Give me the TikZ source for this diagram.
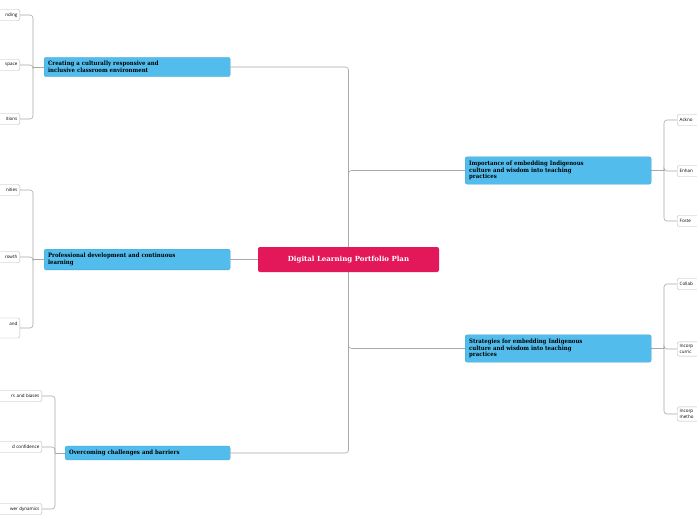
\documentclass[tikz,border=0pt]{standalone}
\usepackage{fontspec}
\setmainfont{DejaVu Serif}
\newfontfamily\leaffont{Open Sans}
\usetikzlibrary{backgrounds}
\definecolor{mainblue}{HTML}{52BDEC}
\definecolor{crim}{HTML}{E2185B}
\definecolor{conn}{HTML}{A8A8A8}
\tikzset{
  centre/.style={fill=crim,rounded corners=2pt,text=white,font=\bfseries\fontsize{7}{8}\selectfont,minimum width=181pt,minimum height=25pt,inner sep=3pt},
  topic/.style={fill=mainblue,draw=mainblue!85!black,line width=0.3pt,rounded corners=2pt,font=\bfseries\fontsize{6}{6.8}\selectfont\fontspec{DejaVu Serif Condensed},align=left,text width=178pt,inner sep=4pt,anchor=west},
  leafL/.style={draw=conn!80,fill=white,rounded corners=2pt,font=\leaffont\fontsize{4.5}{6}\selectfont,align=right,text width=60pt,inner sep=2.5pt,minimum height=11pt,anchor=east},
  leafR/.style={draw=conn!80,fill=white,rounded corners=2pt,font=\leaffont\fontsize{4.5}{6}\selectfont,align=left,text width=60pt,inner sep=2.5pt,minimum height=11pt,anchor=west},
  link/.style={draw=conn,line width=0.6pt,rounded corners=3pt}
}
\begin{document}
\begin{tikzpicture}[x=1pt,y=-1pt]
\useasboundingbox (0,0) rectangle (697,520);
\node[centre] (c) at (348.5,259.5) {Digital Learning Portfolio Plan};
\node[topic] (cre) at (44,67) {Creating a culturally responsive and\\inclusive classroom environment};
\node[topic] (pro) at (44,259.5) {Professional development and continuous\\learning};
\node[topic,text width=157pt] (ove) at (65,453) {Overcoming challenges and barriers};
\node[topic] (imp) at (465,170.5) {Importance of embedding Indigenous\\culture and wisdom into teaching\\practices};
\node[topic] (str) at (465,348.5) {Strategies for embedding Indigenous\\culture and wisdom into teaching\\practices};
% left leaves
\node[leafL] (l1) at (20,15) {nding};
\node[leafL] (l2) at (20,65) {space};
\node[leafL] (l3) at (20,119) {itions};
\node[leafL] (l4) at (20,190) {nities};
\node[leafL] (l5) at (20,257) {rowth};
\node[leafL,minimum height=20pt] (l6) at (20,328) {and\\\strut};
\node[leafL] (l7) at (42,396) {rs and biases};
\node[leafL] (l8) at (42,447) {d confidence};
\node[leafL] (l9) at (42,509) {wer dynamics};
% right leaves
\node[leafR] (r1) at (677,120) {Ackno};
\node[leafR] (r2) at (677,171) {Enhan};
\node[leafR] (r3) at (677,221) {Foste};
\node[leafR] (r4) at (677,284) {Collab};
\node[leafR] (r5) at (677,349) {Incorp\\curric};
\node[leafR] (r6) at (677,414) {Incorp\\metho};
\coordinate (bc) at (33,67);
\coordinate (bp) at (33,259.5);
\coordinate (bo) at (55,453);
\coordinate (bi) at (664,170.5);
\coordinate (bs) at (664,348.5);
\begin{scope}[on background layer]
\draw[link] (c.center) |- (cre.east);
\draw[link] (c.center) |- (pro.east);
\draw[link] (c.center) |- (ove.east);
\draw[link] (c.center) |- (imp.west);
\draw[link] (c.center) |- (str.west);
\draw[link] (cre.west) -- (bc);
\draw[link] (pro.west) -- (bp);
\draw[link] (ove.west) -- (bo);
\draw[link] (imp.east) -- (bi);
\draw[link] (str.east) -- (bs);
\foreach \l in {l1,l2,l3} \draw[link] (bc) |- (\l.east);
\foreach \l in {l4,l5,l6} \draw[link] (bp) |- (\l.east);
\foreach \l in {l7,l8,l9} \draw[link] (bo) |- (\l.east);
\foreach \l in {r1,r2,r3} \draw[link] (bi) |- (\l.west);
\foreach \l in {r4,r5,r6} \draw[link] (bs) |- (\l.west);
\end{scope}
\end{tikzpicture}
\end{document}
